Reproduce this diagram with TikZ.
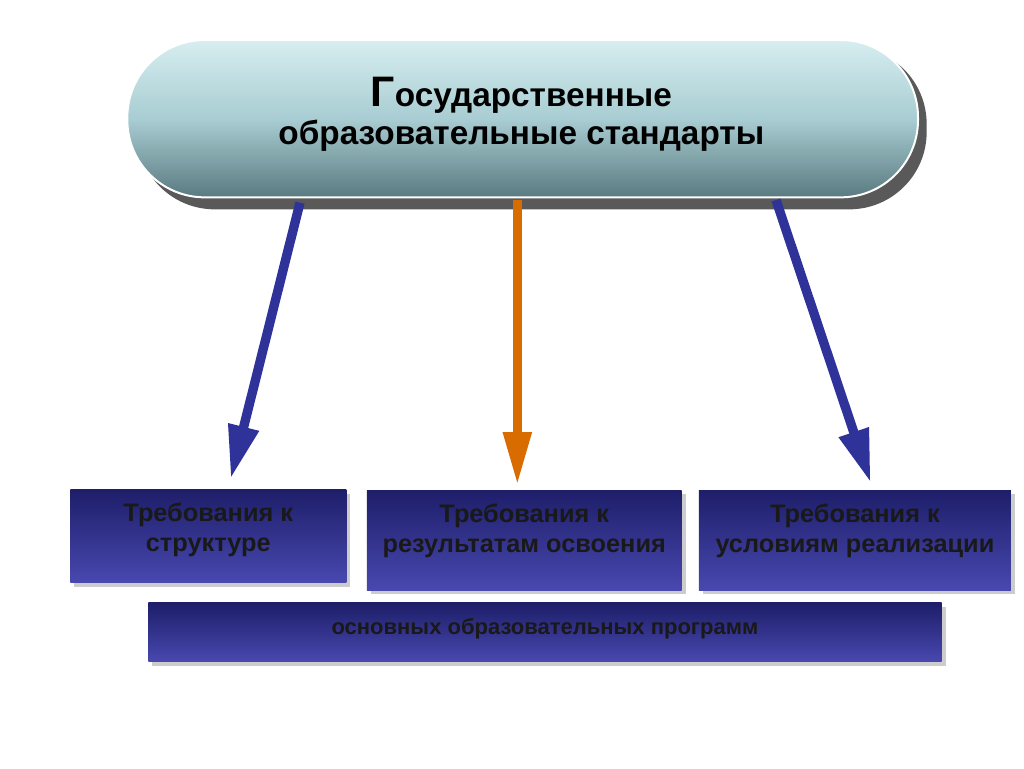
\documentclass[tikz,border=0pt]{standalone}
\usepackage{fontspec}
\setmainfont{Liberation Sans}
\usetikzlibrary{shadows,arrows.meta}
\definecolor{btop}{HTML}{1E1E6A}
\definecolor{bbot}{HTML}{4848B0}
\definecolor{arb}{HTML}{2E3299}
\definecolor{pt}{HTML}{D6EEF0}
\definecolor{pm}{HTML}{A8CDD2}
\definecolor{pb}{HTML}{5A7A80}
\begin{document}
\begin{tikzpicture}[x=1pt,y=-1pt,
  bbox/.style={inner sep=0pt,top color=btop,bottom color=bbot,
    drop shadow={shadow xshift=3pt,shadow yshift=-3pt,opacity=0.4}},
  btext/.style={font=\bfseries\fontsize{19}{22.5}\selectfont,align=center,text=black!90,anchor=north},
  barrow/.style={line width=7pt,draw=arb,-{Triangle[length=40pt,width=22pt]}},
  oarrow/.style={line width=7pt,draw=orange!85!black,-{Triangle[length=40pt,width=20pt]}}]
\useasboundingbox (0,0) rectangle (768,576);
% top pill
\fill[black!65,rounded corners=58pt] (103,35) rectangle (695,157);
\node[minimum width=593pt,minimum height=118pt,rounded corners=58pt,
  top color=pt,bottom color=pb,middle color=pm,
  draw=white,line width=1.5pt] (top) at (392,89) {};
\node[font=\bfseries\fontsize{25}{28.5}\selectfont,align=center,text=black] (tt) at (391,86)
  {{\fontsize{32}{28.5}\selectfont Г}осударственные\\образовательные стандарты};
% boxes
\node[bbox,minimum width=207pt,minimum height=70pt,anchor=north west] (b1) at (52.5,367) {};
\node[btext] (t1) at (b1.north) [yshift=-7pt] {Требования к\\структуре};
\node[bbox,minimum width=236pt,minimum height=75pt,anchor=north west] (b2) at (275,367.5) {};
\node[btext] (t2) at (b2.north) [yshift=-7pt] {Требования к\\результатам освоения};
\node[bbox,minimum width=234pt,minimum height=75pt,anchor=north west] (b3) at (524,367.5) {};
\node[btext] (t3) at (b3.north) [yshift=-7pt] {Требования к\\условиям реализации};
\node[bbox,minimum width=595pt,minimum height=44pt,anchor=north west] (b4) at (111,452) {};
\node[btext,font=\bfseries\fontsize{16.5}{19}\selectfont] (t4) at (b4.north) [yshift=-8pt] {основных образовательных программ};
% arrows
\coordinate (s1) at (225,152); \coordinate (e1) at (173,359);
\coordinate (s2) at (388,150); \coordinate (e2) at (388,364);
\coordinate (s3) at (582,150); \coordinate (e3) at (653,362);
\draw[barrow] (s1) -- (e1);
\draw[oarrow] (s2) -- (e2);
\draw[barrow] (s3) -- (e3);
\end{tikzpicture}
\end{document}
